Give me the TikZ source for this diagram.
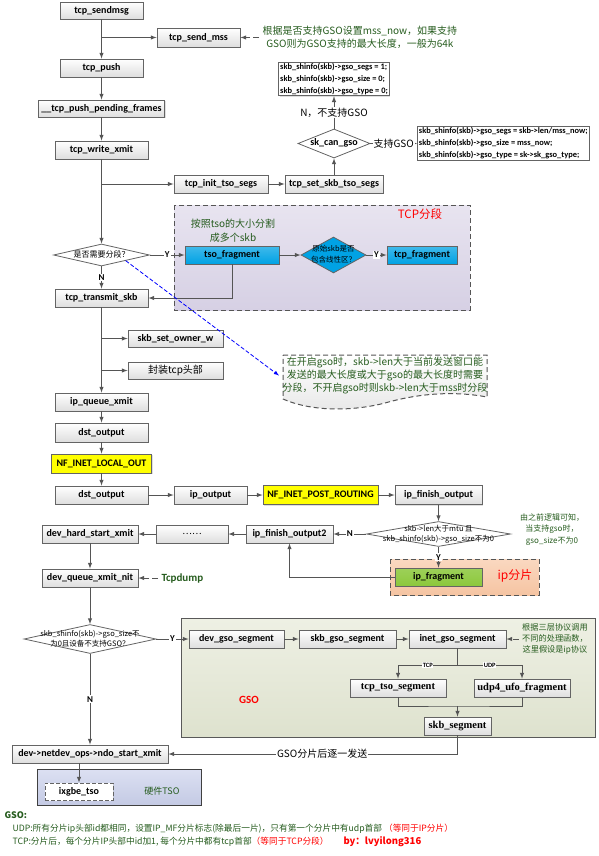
\documentclass[tikz,border=0pt]{standalone}
\usepackage{fontspec}
\setmainfont{Carlito}
\newfontfamily\cjk{Noto Sans CJK SC}
\newfontfamily\timesbold{Liberation Serif}
\usepackage{tikz}
\usepackage{xcolor}
\usetikzlibrary{arrows}
\usetikzlibrary{shapes}
\usetikzlibrary{shadows}
\definecolor{notegreen}{RGB}{38,92,30}
\definecolor{linegray}{RGB}{85,85,85}
\definecolor{boxgray}{RGB}{100,100,100}
\definecolor{boxfill}{RGB}{222,222,222}
\definecolor{tsocyan}{RGB}{0,162,228}
\definecolor{ipgreen}{RGB}{140,200,60}
\definecolor{nfyellow}{RGB}{255,255,0}
\definecolor{tcptop}{RGB}{232,228,240}
\definecolor{tcpbot}{RGB}{214,208,228}
\definecolor{iptop}{RGB}{250,216,192}
\definecolor{ipbot}{RGB}{245,196,162}
\definecolor{gsotop}{RGB}{238,240,228}
\definecolor{gsobot}{RGB}{222,226,206}
\definecolor{hwtop}{RGB}{220,224,242}
\definecolor{hwbot}{RGB}{196,202,228}
\newcommand{\dtext}[1]{\makebox[0pt]{\smash{\raisebox{-0.5ex}{\begin{tabular}{@{}c@{}}#1\end{tabular}}}}}
\tikzstyle{func}=[draw=boxgray, line width=0.8pt, top color=white, bottom color=boxfill, minimum height=18, inner xsep=1pt, inner ysep=0pt, font=\fontsize{10}{11}\selectfont\bfseries, drop shadow={opacity=0.25, shadow xshift=1pt, shadow yshift=-1pt}]
\tikzstyle{cyanfunc}=[func, top color=tsocyan!75!white, bottom color=tsocyan]
\tikzstyle{nffunc}=[func, top color=nfyellow, bottom color=nfyellow]
\tikzstyle{fragfunc}=[func, top color=ipgreen!85!white, bottom color=ipgreen]
\tikzstyle{romanfunc}=[func, font=\fontsize{10.5}{12}\selectfont\timesbold\bfseries]
\tikzstyle{dashfunc}=[func, top color=white, bottom color=white, dash pattern=on 4pt off 2pt]
\tikzstyle{decision}=[diamond, draw=boxgray, line width=0.8pt, fill=white, inner sep=0pt, font=\cjk\fontsize{7.5}{10}\selectfont]
\tikzstyle{shinfo}=[draw=boxgray, line width=0.8pt, fill=white, align=left, inner xsep=1.5pt, inner ysep=1pt, font=\fontsize{8.4}{12}\selectfont\bfseries, drop shadow={opacity=0.25, shadow xshift=1pt, shadow yshift=-1pt}]
\tikzstyle{flow}=[draw=linegray, line width=1pt]
\tikzstyle{flowarrow}=[flow, -latex]
\tikzstyle{hintarrow}=[flow, -latex, dash pattern=on 6pt off 3pt]
\tikzstyle{seeremark}=[draw=blue, line width=0.8pt, dash pattern=on 4pt off 2pt, -latex]
\tikzstyle{yn}=[fill=white, inner sep=1pt, font=\fontsize{9}{10}\selectfont\bfseries]
\tikzstyle{cjkyn}=[fill=white, inner sep=1pt, font=\cjk\fontsize{10}{11}\selectfont]
\tikzstyle{branchlbl}=[fill=white, inner sep=0.5pt, font=\fontsize{6.5}{7}\selectfont\bfseries]
\tikzstyle{remark}=[text=notegreen, align=center, font=\cjk\fontsize{10}{13}\selectfont]
\tikzstyle{zonelbl}=[text=red, font=\cjk\fontsize{11.5}{12}\selectfont]
\tikzstyle{tcpzone}=[draw=linegray, line width=1pt, dash pattern=on 5pt off 3pt, top color=tcptop, bottom color=tcpbot]
\tikzstyle{ipzone}=[tcpzone, top color=iptop, bottom color=ipbot]
\tikzstyle{gsozone}=[draw=gray!70!black, line width=1pt, top color=gsotop, bottom color=gsobot]
\tikzstyle{hwzone}=[draw=darkgray, line width=1pt, top color=hwtop, bottom color=hwbot]
\tikzstyle{notebox}=[draw=linegray, line width=1pt, dash pattern=on 5pt off 3pt, top color=white, bottom color=gray!18]
\tikzstyle{footline}=[anchor=west, text=notegreen, font=\cjk\fontsize{8.7}{10}\selectfont]

\begin{document}
\begin{tikzpicture}[x=1pt,y=-1pt]
	\useasboundingbox (0,0) rectangle (598,856);
	% zones
	\draw[tcpzone] (174,205) rectangle (470,310);
	\draw[ipzone] (390,559) rectangle (539,595);
	\draw[gsozone] (181,618) rectangle (595,737);
	\draw[hwzone] (37,769) rectangle (201,805);
	\draw[notebox] (283,355) -- (487,355) -- (487,397) .. controls (455,391) and (420,393) .. (385,403) .. controls (350,412) and (310,411) .. (283,399) -- cycle;
	% tcp layer
	\node[func, minimum width=83, minimum height=17] (sendmsg) at (101.5,10.5) {tcp\_sendmsg};
	\node[func, minimum width=83, minimum height=19] (sendmss) at (198.5,37.5) {tcp\_send\_mss};
	\node[remark, anchor=west] (mssnote) at (259,37.5) {根据是否支持GSO设置mss\_now，如果支持\\GSO则为GSO支持的最大长度，一般为64k};
	\node[func, minimum width=83] (push) at (101.5,68) {tcp\_push};
	\node[func, minimum width=126, minimum height=17] (pending) at (101.5,108.5) {\_\_tcp\_push\_pending\_frames};
	\node[func, minimum width=93] (writexmit) at (101.5,150) {tcp\_write\_xmit};
	\node[func, minimum width=94] (initsegs) at (221,184) {tcp\_init\_tso\_segs};
	\node[func, minimum width=98] (setsegs) at (334,184) {tcp\_set\_skb\_tso\_segs};
	\node[decision, minimum width=72, minimum height=29, font=\fontsize{10}{11}\selectfont\bfseries] (cangso) at (334,143.5) {\dtext{sk\_can\_gso}};
	\node[shinfo] (nogso) at (334,79) {skb\_shinfo(skb)->gso\_segs = 1;\\skb\_shinfo(skb)->gso\_size = 0;\\skb\_shinfo(skb)->gso\_type = 0;};
	\node[shinfo, anchor=west] (withgso) at (417,143.5) {skb\_shinfo(skb)->gso\_segs = skb->len/mss\_now;\\skb\_shinfo(skb)->gso\_size = mss\_now;\\skb\_shinfo(skb)->gso\_type = sk->sk\_gso\_type;};
	\node[decision, minimum width=96, minimum height=22, font=\cjk\fontsize{8}{10}\selectfont] (needseg) at (101.5,255) {\dtext{是否需要分段？}};
	\node[remark, font=\cjk\fontsize{10}{14}\selectfont] (tsonote) at (233,231) {按照tso的大小分割\\成多个skb};
	\node[zonelbl] (tcpzonelbl) at (420,214) {TCP分段};
	\node[cyanfunc, minimum width=94] (tsofrag) at (232,255) {tso\_fragment};
	\node[decision, fill=tsocyan, minimum width=65, minimum height=36, font=\cjk\fontsize{7.5}{11}\selectfont] (linq) at (333.5,255) {\dtext{原始skb是否\\包含线性区？}};
	\node[cyanfunc, minimum width=70] (tcpfrag) at (422,255) {tcp\_fragment};
	\node[func, minimum width=93] (transmit) at (101.5,298) {tcp\_transmit\_skb};
	\node[func, minimum width=95, minimum height=17] (setowner) at (175.5,338.5) {skb\_set\_owner\_w};
	\node[func, minimum width=95, minimum height=17, font=\cjk\fontsize{10}{11}\selectfont] (tcphdr) at (175.5,370.5) {封装tcp头部};
	\node[remark] (segnote) at (385,375.5) {在开启gso时，skb->len大于当前发送窗口能\\发送的最大长度或大于gso的最大长度时需要\\分段，不开启gso时则skb->len大于mss时分段};
	% ip layer
	\node[func, minimum width=93] (queuexmit) at (101.5,402) {ip\_queue\_xmit};
	\node[func, minimum width=93, minimum height=19] (dstout) at (101.5,432.5) {dst\_output};
	\node[nffunc, minimum width=100, minimum height=19] (localout) at (101.5,463.5) {NF\_INET\_LOCAL\_OUT};
	\node[func, minimum width=93] (dstout2) at (101.5,495) {dst\_output};
	\node[func, minimum width=73] (ipout) at (210.5,495) {ip\_output};
	\node[nffunc, minimum width=115, minimum height=19] (postrouting) at (320.5,495) {NF\_INET\_POST\_ROUTING};
	\node[func, minimum width=87, minimum height=19] (finishout) at (438.5,495) {ip\_finish\_output};
	\node[decision, minimum width=144, minimum height=25] (mtuq) at (438.5,534) {\dtext{skb->len大于mtu 且\\skb\_shinfo(skb)->gso\_size不为0}};
	\node[remark, font=\cjk\fontsize{8}{11.5}\selectfont] (mtunote) at (552,529.5) {由之前逻辑可知，\\当支持gso时，\\gso\_size不为0};
	\node[fragfunc, minimum width=87] (ipfrag) at (438.5,577) {ip\_fragment};
	\node[zonelbl, font=\cjk\fontsize{12}{13}\selectfont] (ipzonelbl) at (515,576) {ip分片};
	\node[func, minimum width=87] (finishout2) at (289.5,534) {ip\_finish\_output2};
	\node[func, minimum width=72, font=\cjk\fontsize{9}{10}\selectfont] (dots) at (192,534) {……};
	% device layer
	\node[func, minimum width=96] (hardxmit) at (90,534) {dev\_hard\_start\_xmit};
	\node[func, minimum width=96] (xmitnit) at (90,578) {dev\_queue\_xmit\_nit};
	\node[anchor=west, text=notegreen, font=\fontsize{11}{12}\selectfont\bfseries] (tcpdump) at (158,578) {Tcpdump};
	\node[decision, minimum width=132, minimum height=29] (gsoq) at (90,639) {\dtext{skb\_shinfo(skb)->gso\_size不\\为0且设备不支持GSO？}};
	\node[func, minimum width=95] (devgso) at (236.5,639) {dev\_gso\_segment};
	\node[func, minimum width=97] (skbgso) at (347.5,639) {skb\_gso\_segment};
	\node[func, minimum width=97] (inetgso) at (457.5,639) {inet\_gso\_segment};
	\node[remark, font=\cjk\fontsize{8.2}{11}\selectfont] (inetnote) at (555,639) {根据三层协议调用\\不同的处理函数，\\这里假设是ip协议};
	\node[romanfunc, minimum width=96] (tcptso) at (398,688) {tcp\_tso\_segment};
	\node[romanfunc, minimum width=96] (udpufo) at (522,688) {udp4\_ufo\_fragment};
	\node[romanfunc, minimum width=67] (skbseg) at (457.5,726) {skb\_segment};
	\node[zonelbl, font=\fontsize{11}{12}\selectfont\bfseries] (gsozonelbl) at (249,700) {GSO};
	\coordinate (split) at (457.5,665);
	\coordinate (merge) at (457.5,706);
	\node[func, minimum width=156] (ndo) at (90,754) {dev->netdev\_ops->ndo\_start\_xmit};
	\node[dashfunc, minimum width=68, minimum height=17] (ixgbe) at (79,791.5) {ixgbe\_tso};
	\node[text=notegreen, font=\cjk\fontsize{9}{10}\selectfont] (hwzonelbl) at (162,791) {硬件TSO};
	% footnote
	\node[footline, font=\cjk\fontsize{9}{10}\selectfont\bfseries] (gsohead) at (1,815) {GSO:};
	\node[footline] (udpline) at (9,828.5) {UDP:所有分片ip头部id都相同，设置IP\_MF分片标志(除最后一片)，只有第一个分片中有udp首部 \textcolor{red}{（等同于IP分片）}};
	\node[footline] (tcpline) at (9,842) {TCP:分片后，每个分片IP头部中id加1, 每个分片中都有tcp首部\textcolor{red}{（等同于TCP分段）}};
	\node[footline, text=red, font=\cjk\fontsize{9.5}{10}\selectfont\bfseries] (byline) at (340,842) {by：lvyilong316};
	% connectors
	\draw[flowarrow] (sendmsg) -- (push);
	\draw[flowarrow] (sendmsg |- sendmss) -- (sendmss);
	\draw[hintarrow] (mssnote) -- (sendmss);
	\draw[flowarrow] (push) -- (pending);
	\draw[flowarrow] (pending) -- (writexmit);
	\draw[flowarrow] (writexmit) -- (needseg);
	\draw[flowarrow] (writexmit |- initsegs) -- (initsegs);
	\draw[flowarrow] (initsegs) -- (setsegs);
	\draw[flowarrow] (setsegs) -- (cangso);
	\draw[flowarrow] (cangso) -- node[cjkyn]{N，不支持GSO} (nogso);
	\draw[flowarrow] (cangso) -- node[cjkyn]{支持GSO} (withgso);
	\draw[flowarrow] (needseg) -- node[yn]{Y} (tsofrag);
	\draw[flowarrow] (tsofrag) -- (linq);
	\draw[flowarrow] (linq) -- node[yn]{Y} (tcpfrag);
	\draw[flowarrow] (needseg) -- node[yn]{N} (transmit);
	\draw[flowarrow] (tsofrag) |- (transmit);
	\draw[seeremark] (needseg.south east) -- (segnote.west);
	\draw[flowarrow] (transmit) -- (queuexmit);
	\draw[flowarrow] (transmit |- setowner) -- (setowner);
	\draw[flowarrow] (transmit |- tcphdr) -- (tcphdr);
	\draw[flowarrow] (queuexmit) -- (dstout);
	\draw[flowarrow] (dstout) -- (localout);
	\draw[flowarrow] (localout) -- (dstout2);
	\draw[flowarrow] (dstout2) -- (ipout);
	\draw[flowarrow] (ipout) -- (postrouting);
	\draw[flowarrow] (postrouting) -- (finishout);
	\draw[flowarrow] (finishout) -- (mtuq);
	\draw[flowarrow] (mtuq) -- node[yn]{N} (finishout2);
	\draw[flowarrow] (mtuq) -- node[yn]{Y} (ipfrag);
	\draw[flowarrow] (ipfrag) -| (finishout2);
	\draw[flowarrow] (finishout2) -- (dots);
	\draw[flowarrow] (dots) -- (hardxmit);
	\draw[flowarrow] (hardxmit) -- (xmitnit);
	\draw[hintarrow] (tcpdump) -- (xmitnit);
	\draw[flowarrow] (xmitnit) -- (gsoq);
	\draw[flowarrow] (gsoq) -- node[yn]{Y} (devgso);
	\draw[flowarrow] (devgso) -- (skbgso);
	\draw[flowarrow] (skbgso) -- (inetgso);
	\draw[hintarrow] (inetnote) -- (inetgso);
	\draw[flow] (inetgso) -- (split);
	\draw[flowarrow] (split) -| node[branchlbl, pos=0.25]{TCP} (tcptso);
	\draw[flowarrow] (split) -| node[branchlbl, pos=0.25]{UDP} (udpufo);
	\draw[flow] (tcptso) |- (merge) -| (udpufo);
	\draw[flowarrow] (merge) -- (skbseg);
	\draw[flowarrow] (skbseg) |- node[cjkyn, pos=0.734]{GSO分片后逐一发送} (ndo);
	\draw[flowarrow] (gsoq) -- node[yn]{N} (ndo);
	\draw[flowarrow] (ndo.south -| ixgbe) -- (ixgbe);
\end{tikzpicture}
\end{document}
